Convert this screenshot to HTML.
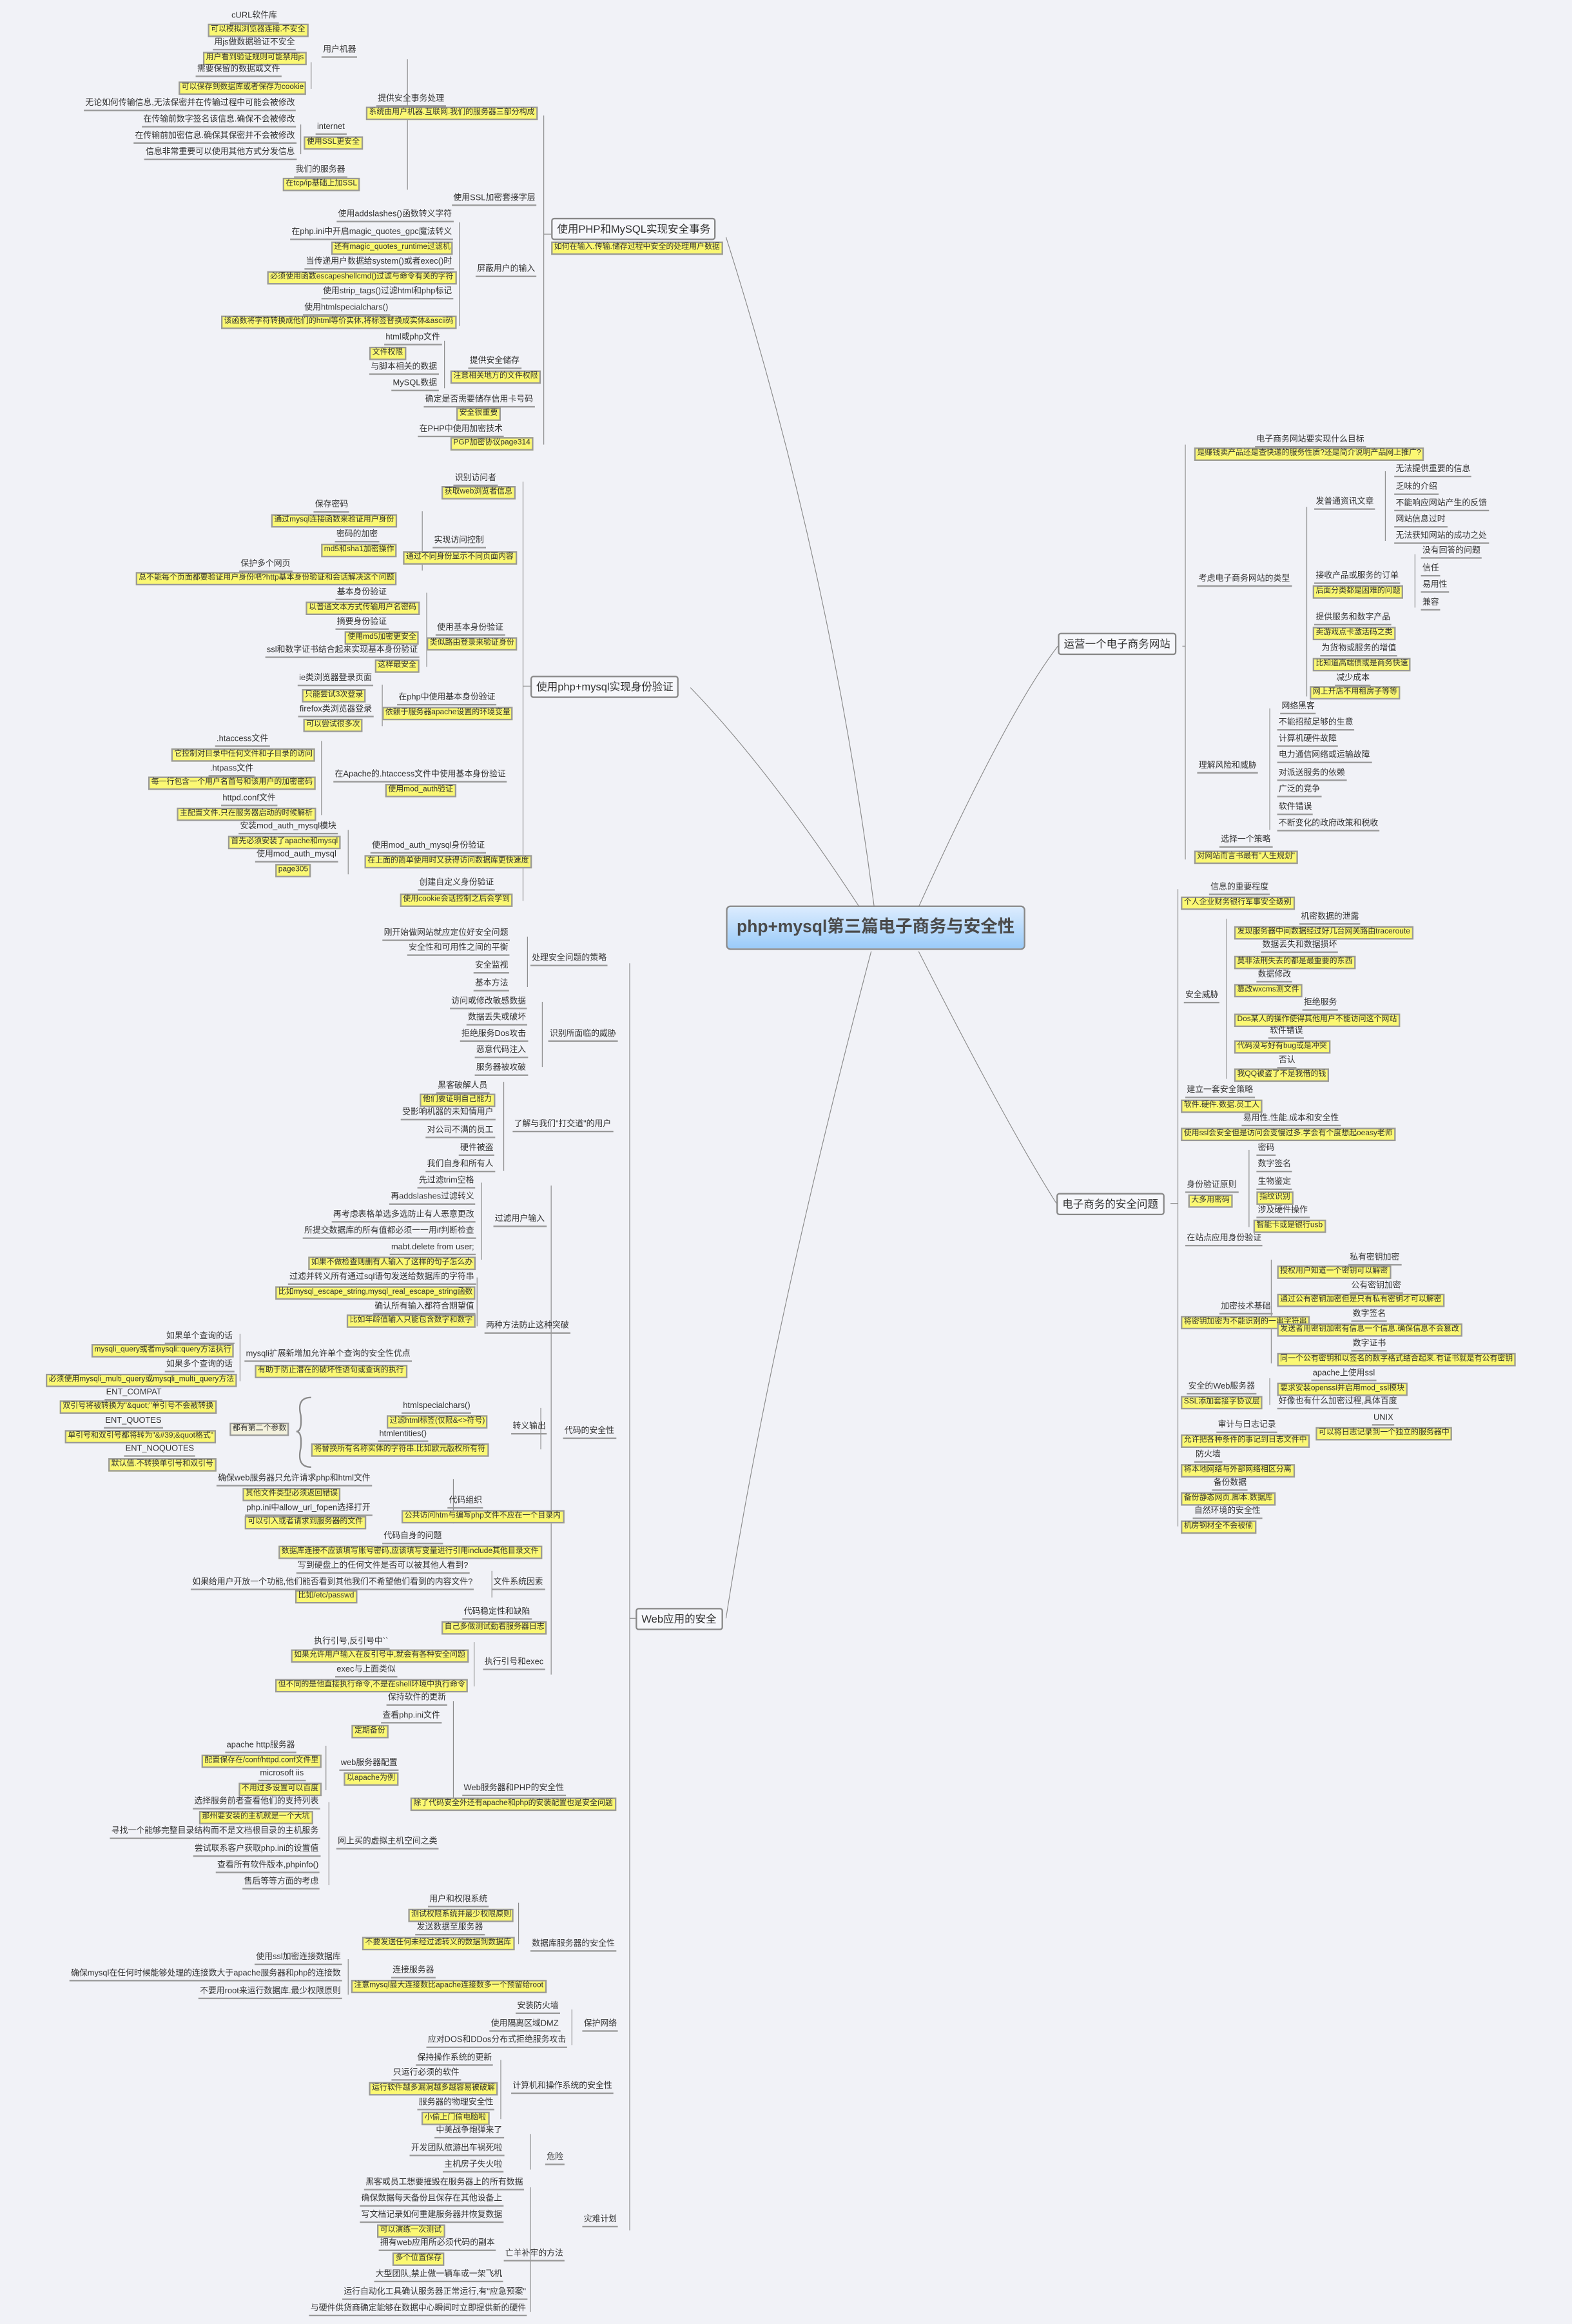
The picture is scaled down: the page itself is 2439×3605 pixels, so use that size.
<!DOCTYPE html>
<html><head><meta charset="utf-8">
<style>
html,body{margin:0;padding:0;background:#f1f2f7;}
body{width:2439px;height:3604px;overflow:hidden;position:relative;}
#c{position:absolute;left:0;top:0;width:1061px;height:1568px;transform:scale(2.2988);transform-origin:0 0;font-family:"Liberation Sans","Noto Sans CJK SC",sans-serif;color:#333;}
#c div{position:absolute;white-space:nowrap;}
.t{font-size:5.6px;line-height:7px;border-bottom:0.45px solid #999;padding:0 1px;}
.n{font-size:5.2px;line-height:6.2px;background:#fbf873;border:0.45px solid #999;padding:0.3px 1px;}
.r{transform:translateX(-100%);}
.b{font-size:7.2px;line-height:9px;border:0.5px solid #888;border-radius:2px;background:#f6f7fb;padding:2px 3px;}
.m{font-size:11.5px;font-weight:bold;color:#4a4a4a;background:linear-gradient(#dcecfe,#9acbf9);border:0.5px solid #888;border-radius:3px;padding:6px 0;width:200px;text-align:center;line-height:16px;}
svg{position:absolute;left:0;top:0;}
</style></head><body><div id="c">
<svg width="1061" height="1568" viewBox="0 0 1061 1568" fill="none" stroke="#8a8a8a" stroke-width="0.5">
<path d="M590 612 Q560 380 490 160"/><path d="M580 612 Q520 520 466 464"/><path d="M588 642 Q520 900 490 1092"/>
<path d="M620 612 Q680 480 714 436"/><path d="M620 642 Q680 760 713 812"/>
<path d="M367 78 V300 M367 158 H372 M275 40 V128 M210 42 V60 M203 84 V104 M310 150 V220 M300 230 V262"/>
<path d="M353 325 V608 M353 463 H358 M285 345 V385 M288 400 V450 M258 462 V490 M217 500 V550 M235 560 V590"/>
<path d="M425 650 V1505 M425 1092 H429 M356 632 V666 M366 676 V720 M340 730 V790 M372 800 V1130 M325 798 V850 M322 862 V895 M162 900 V932 M365 950 V978 M306 998 V1028 M332 1060 V1078 M320 1108 V1138"/>
<path d="M306 1148 V1218 M220 1178 V1208 M222 1216 V1272 M350 1284 V1312 M235 1322 V1346 M386 1356 V1380 M338 1390 V1430 M358 1440 V1464 M358 1476 V1560"/>
<path d="M800 300 V580 M800 436 H798 M935 318 V365 M955 374 V410 M882 342 V470 M857 478 V560"/>
<path d="M795 600 V1030 M795 812 H790 M828 620 V728 M843 776 V828 M858 850 V920 M857 930 V948"/>
<path d="M210 943 Q200 943 203 955 Q204 966 200 966 Q204 966 203 977 Q200 990 210 990" stroke-width="1"/>
</svg>
<div class="m" style="left:490px;top:611px;">php+mysql第三篇电子商务与安全性</div>

<div class="b" style="left:372px;top:147px;">使用PHP和MySQL实现安全事务</div>
<div class="n" style="left:372px;top:163px;">如何在输入.传输.储存过程中安全的处理用户数据</div>
<div class="t r" style="left:188px;top:8px;">cURL软件库</div>
<div class="n r" style="left:208px;top:16px;">可以模拟浏览器连接.不安全</div>
<div class="t r" style="left:200px;top:26px;">用js做数据验证不安全</div>
<div class="n r" style="left:207px;top:35px;">用户看到验证规则可能禁用js</div>
<div class="t r" style="left:190px;top:44px;">需要保留的数据或文件</div>
<div class="n r" style="left:207px;top:55px;">可以保存到数据库或者保存为cookie</div>
<div class="t" style="left:217px;top:31px;">用户机器</div>
<div class="t" style="left:254px;top:64px;">提供安全事务处理</div>
<div class="n" style="left:247px;top:72px;">系统由用户机器.互联网.我们的服务器三部分构成</div>
<div class="t r" style="left:200px;top:67px;">无论如何传输信息,无法保密并在传输过程中可能会被修改</div>
<div class="t r" style="left:200px;top:78px;">在传输前数字签名该信息.确保不会被修改</div>
<div class="t r" style="left:200px;top:89px;">在传输前加密信息.确保其保密并不会被修改</div>
<div class="t r" style="left:200px;top:100px;">信息非常重要可以使用其他方式分发信息</div>
<div class="t" style="left:213px;top:83px;">internet</div>
<div class="n" style="left:205px;top:92px;">使用SSL更安全</div>
<div class="t r" style="left:234px;top:112px;">我们的服务器</div>
<div class="n r" style="left:243px;top:120px;">在tcp/ip基础上加SSL</div>
<div class="t" style="left:305px;top:131px;">使用SSL加密套接字层</div>
<div class="t r" style="left:306px;top:142px;">使用addslashes()函数转义字符</div>
<div class="t r" style="left:306px;top:154px;">在php.ini中开启magic_quotes_gpc魔法转义</div>
<div class="n r" style="left:306px;top:163px;">还有magic_quotes_runtime过滤机</div>
<div class="t r" style="left:306px;top:174px;">当传递用户数据给system()或者exec()时</div>
<div class="n r" style="left:308px;top:183px;">必须使用函数escapeshellcmd()过滤与命令有关的字符</div>
<div class="t" style="left:321px;top:179px;">屏蔽用户的输入</div>
<div class="t r" style="left:306px;top:194px;">使用strip_tags()过滤html和php标记</div>
<div class="t r" style="left:263px;top:205px;">使用htmlspecialchars()</div>
<div class="n r" style="left:308px;top:213px;">该函数将字符转换成他们的html等价实体,将标签替换成实体&amp;ascii码</div>
<div class="t r" style="left:298px;top:225px;">html或php文件</div>
<div class="n r" style="left:274px;top:234px;">文件权限</div>
<div class="t r" style="left:296px;top:245px;">与脚本相关的数据</div>
<div class="t" style="left:316px;top:241px;">提供安全储存</div>
<div class="n" style="left:304px;top:250px;">注意相关地方的文件权限</div>
<div class="t r" style="left:296px;top:256px;">MySQL数据</div>
<div class="t" style="left:286px;top:267px;">确定是否需要储存信用卡号码</div>
<div class="n" style="left:308px;top:275px;">安全很重要</div>
<div class="t" style="left:282px;top:287px;">在PHP中使用加密技术</div>
<div class="n" style="left:304px;top:295px;">PGP加密协议page314</div>

<div class="b" style="left:358px;top:456px;">使用php+mysql实现身份验证</div>
<div class="t" style="left:306px;top:320px;">识别访问者</div>
<div class="n" style="left:298px;top:328px;">获取web浏览者信息</div>
<div class="t r" style="left:236px;top:338px;">保存密码</div>
<div class="n r" style="left:268px;top:347px;">通过mysql连接函数来验证用户身份</div>
<div class="t r" style="left:256px;top:358px;">密码的加密</div>
<div class="n r" style="left:268px;top:367px;">md5和sha1加密操作</div>
<div class="t" style="left:292px;top:362px;">实现访问控制</div>
<div class="n" style="left:272px;top:372px;">通过不同身份显示不同页面内容</div>
<div class="t r" style="left:197px;top:378px;">保护多个网页</div>
<div class="n r" style="left:268px;top:386px;">总不能每个页面都要验证用户身份吧?http基本身份验证和会话解决这个问题</div>
<div class="t r" style="left:262px;top:397px;">基本身份验证</div>
<div class="n r" style="left:283px;top:406px;">以普通文本方式传输用户名密码</div>
<div class="t r" style="left:262px;top:417px;">摘要身份验证</div>
<div class="n r" style="left:283px;top:426px;">使用md5加密更安全</div>
<div class="t" style="left:294px;top:421px;">使用基本身份验证</div>
<div class="n" style="left:288px;top:430px;">类似路由登录来验证身份</div>
<div class="t r" style="left:283px;top:436px;">ssl和数字证书结合起来实现基本身份验证</div>
<div class="n r" style="left:283px;top:445px;">这样最安全</div>
<div class="t r" style="left:252px;top:455px;">ie类浏览器登录页面</div>
<div class="n r" style="left:247px;top:465px;">只能尝试3次登录</div>
<div class="t r" style="left:252px;top:476px;">firefox类浏览器登录</div>
<div class="n r" style="left:245px;top:485px;">可以尝试很多次</div>
<div class="t" style="left:268px;top:468px;">在php中使用基本身份验证</div>
<div class="n" style="left:258px;top:477px;">依赖于服务器apache设置的环境变量</div>
<div class="t r" style="left:182px;top:496px;">.htaccess文件</div>
<div class="n r" style="left:213px;top:505px;">它控制对目录中任何文件和子目录的访问</div>
<div class="t r" style="left:172px;top:516px;">.htpass文件</div>
<div class="n r" style="left:213px;top:524px;">每一行包含一个用户名首号和该用户的加密密码</div>
<div class="t r" style="left:187px;top:536px;">httpd.conf文件</div>
<div class="n r" style="left:213px;top:545px;">主配置文件.只在服务器启动的时候解析</div>
<div class="t" style="left:225px;top:520px;">在Apache的.htaccess文件中使用基本身份验证</div>
<div class="n" style="left:260px;top:529px;">使用mod_auth验证</div>
<div class="t r" style="left:228px;top:555px;">安装mod_auth_mysql模块</div>
<div class="n r" style="left:230px;top:564px;">首先必须安装了apache和mysql</div>
<div class="t r" style="left:228px;top:574px;">使用mod_auth_mysql</div>
<div class="n r" style="left:210px;top:583px;">page305</div>
<div class="t" style="left:250px;top:568px;">使用mod_auth_mysql身份验证</div>
<div class="n" style="left:246px;top:577px;">在上面的简单使用时又获得访问数据库更快速度</div>
<div class="t" style="left:282px;top:593px;">创建自定义身份验证</div>
<div class="n" style="left:270px;top:603px;">使用cookie会话控制之后会学到</div>

<div class="b" style="left:429px;top:1085px;">Web应用的安全</div>
<div class="t" style="left:358px;top:644px;">处理安全问题的策略</div>
<div class="t r" style="left:344px;top:627px;">刚开始做网站就应定位好安全问题</div>
<div class="t r" style="left:344px;top:637px;">安全性和可用性之间的平衡</div>
<div class="t r" style="left:344px;top:649px;">安全监视</div>
<div class="t r" style="left:344px;top:661px;">基本方法</div>
<div class="t r" style="left:356px;top:673px;">访问或修改敏感数据</div>
<div class="t r" style="left:356px;top:684px;">数据丢失或破坏</div>
<div class="t r" style="left:356px;top:695px;">拒绝服务Dos攻击</div>
<div class="t" style="left:370px;top:695px;">识别所面临的威胁</div>
<div class="t r" style="left:356px;top:706px;">恶意代码注入</div>
<div class="t r" style="left:356px;top:718px;">服务器被攻破</div>
<div class="t r" style="left:330px;top:730px;">黑客破解人员</div>
<div class="n r" style="left:334px;top:738px;">他们要证明自己能力</div>
<div class="t r" style="left:334px;top:748px;">受影响机器的未知情用户</div>
<div class="t r" style="left:334px;top:760px;">对公司不满的员工</div>
<div class="t r" style="left:334px;top:772px;">硬件被盗</div>
<div class="t r" style="left:334px;top:783px;">我们自身和所有人</div>
<div class="t" style="left:346px;top:756px;">了解与我们"打交道"的用户</div>
<div class="t" style="left:380px;top:963px;">代码的安全性</div>
<div class="t r" style="left:321px;top:794px;">先过滤trim空格</div>
<div class="t r" style="left:321px;top:805px;">再addslashes过滤转义</div>
<div class="t r" style="left:321px;top:817px;">再考虑表格单选多选防止有人恶意更改</div>
<div class="t" style="left:333px;top:820px;">过滤用户输入</div>
<div class="t r" style="left:321px;top:828px;">所提交数据库的所有值都必须一一用if判断检查</div>
<div class="t r" style="left:321px;top:839px;">mabt.delete from user;</div>
<div class="n r" style="left:321px;top:848px;">如果不做检查则删有人输入了这样的句子怎么办</div>
<div class="t r" style="left:321px;top:859px;">过滤并转义所有通过sql语句发送给数据库的字符串</div>
<div class="n r" style="left:321px;top:868px;">比如mysql_escape_string,mysql_real_escape_string函数</div>
<div class="t r" style="left:321px;top:879px;">确认所有输入都符合期望值</div>
<div class="n r" style="left:321px;top:887px;">比如年龄值输入只能包含数字和数字</div>
<div class="t" style="left:327px;top:892px;">两种方法防止这种突破</div>
<div class="t r" style="left:158px;top:899px;">如果单个查询的话</div>
<div class="n r" style="left:158px;top:907px;">mysqli_query或者mysqli::query方法执行</div>
<div class="t r" style="left:158px;top:918px;">如果多个查询的话</div>
<div class="n r" style="left:160px;top:927px;">必须使用mysqli_multi_query或mysqli_multi_query方法</div>
<div class="t" style="left:165px;top:911px;">mysqli扩展新增加允许单个查询的安全性优点</div>
<div class="n" style="left:172px;top:921px;">有助于防止潜在的破坏性语句或查询的执行</div>
<div class="t r" style="left:110px;top:937px;">ENT_COMPAT</div>
<div class="n r" style="left:146px;top:945px;">双引号将被转换为"&amp;quot;"单引号不会被转换</div>
<div class="t r" style="left:110px;top:956px;">ENT_QUOTES</div>
<div class="n r" style="left:146px;top:965px;">单引号和双引号都将转为"&amp;#39;&amp;quot格式"</div>
<div class="t r" style="left:132px;top:975px;">ENT_NOQUOTES</div>
<div class="n r" style="left:146px;top:984px;">默认值.不转换单引号和双引号</div>
<div class="n" style="left:155px;top:960px;background:#f3f1dc;">都有第二个参数</div>
<div class="t" style="left:271px;top:946px;">htmlspecialchars()</div>
<div class="n" style="left:261px;top:955px;">过滤html标签(仅限&amp;&lt;&gt;符号)</div>
<div class="t" style="left:255px;top:965px;">htmlentities()</div>
<div class="n" style="left:210px;top:974px;">将替换所有名称实体的字符串.比如欧元版权所有符</div>
<div class="t" style="left:345px;top:960px;">转义输出</div>
<div class="t r" style="left:251px;top:995px;">确保web服务器只允许请求php和html文件</div>
<div class="n r" style="left:230px;top:1004px;">其他文件类型必须返回错误</div>
<div class="t r" style="left:251px;top:1015px;">php.ini中allow_url_fopen选择打开</div>
<div class="n r" style="left:247px;top:1023px;">可以引入或者请求到服务器的文件</div>
<div class="t" style="left:302px;top:1010px;">代码组织</div>
<div class="n" style="left:271px;top:1019px;">公共访问htm与编写php文件不应在一个目录内</div>
<div class="t" style="left:258px;top:1034px;">代码自身的问题</div>
<div class="n" style="left:188px;top:1043px;">数据库连接不应该填写账号密码,应该填写变量进行引用include其他目录文件</div>
<div class="t" style="left:200px;top:1054px;">写到硬盘上的任何文件是否可以被其他人看到?</div>
<div class="t r" style="left:320px;top:1065px;">如果给用户开放一个功能,他们能否看到其他我们不希望他们看到的内容文件?</div>
<div class="n r" style="left:241px;top:1073px;">比如/etc/passwd</div>
<div class="t" style="left:332px;top:1065px;">文件系统因素</div>
<div class="t" style="left:312px;top:1085px;">代码稳定性和缺陷</div>
<div class="n" style="left:298px;top:1094px;">自己多做测试勤看服务器日志</div>
<div class="t r" style="left:263px;top:1105px;">执行引号,反引号中``</div>
<div class="n r" style="left:316px;top:1113px;">如果允许用户输入在反引号中,就会有各种安全问题</div>
<div class="t r" style="left:268px;top:1124px;">exec与上面类似</div>
<div class="n r" style="left:316px;top:1133px;">但不同的是他直接执行命令,不是在shell环境中执行命令</div>
<div class="t" style="left:326px;top:1119px;">执行引号和exec</div>
<div class="t" style="left:312px;top:1204px;">Web服务器和PHP的安全性</div>
<div class="n" style="left:277px;top:1213px;">除了代码安全外还有apache和php的安装配置也是安全问题</div>
<div class="t r" style="left:302px;top:1143px;">保持软件的更新</div>
<div class="t r" style="left:298px;top:1155px;">查看php.ini文件</div>
<div class="n r" style="left:262px;top:1164px;">定期备份</div>
<div class="t r" style="left:200px;top:1175px;">apache http服务器</div>
<div class="n r" style="left:217px;top:1184px;">配置保存在/conf/httpd.conf文件里</div>
<div class="t r" style="left:206px;top:1194px;">microsoft iis</div>
<div class="n r" style="left:217px;top:1203px;">不用过多设置可以百度</div>
<div class="t" style="left:229px;top:1187px;">web服务器配置</div>
<div class="n" style="left:232px;top:1196px;">以apache为例</div>
<div class="t r" style="left:216px;top:1213px;">选择服务前者查看他们的支持列表</div>
<div class="n r" style="left:211px;top:1222px;">那州要安装的主机就是一个大坑</div>
<div class="t r" style="left:216px;top:1233px;">寻找一个能够完整目录结构而不是文档根目录的主机服务</div>
<div class="t" style="left:227px;top:1240px;">网上买的虚拟主机空间之类</div>
<div class="t r" style="left:216px;top:1245px;">尝试联系客户获取php.ini的设置值</div>
<div class="t r" style="left:216px;top:1256px;">查看所有软件版本,phpinfo()</div>
<div class="t r" style="left:216px;top:1267px;">售后等等方面的考虑</div>
<div class="t" style="left:358px;top:1309px;">数据库服务器的安全性</div>
<div class="t r" style="left:330px;top:1279px;">用户和权限系统</div>
<div class="n r" style="left:347px;top:1288px;">测试权限系统并最少权限原则</div>
<div class="t r" style="left:327px;top:1298px;">发送数据至服务器</div>
<div class="n r" style="left:347px;top:1307px;">不要发送任何未经过滤转义的数据到数据库</div>
<div class="t r" style="left:231px;top:1318px;">使用ssl加密连接数据库</div>
<div class="t r" style="left:231px;top:1329px;">确保mysql在任何时候能够处理的连接数大于apache服务器和php的连接数</div>
<div class="t r" style="left:231px;top:1341px;">不要用root来运行数据库.最少权限原则</div>
<div class="t" style="left:264px;top:1327px;">连接服务器</div>
<div class="n" style="left:237px;top:1336px;">注意mysql最大连接数比apache连接数多一个预留给root</div>
<div class="t" style="left:393px;top:1363px;">保护网络</div>
<div class="t r" style="left:378px;top:1351px;">安装防火墙</div>
<div class="t r" style="left:378px;top:1363px;">使用隔离区域DMZ</div>
<div class="t r" style="left:383px;top:1374px;">应对DOS和DDos分布式拒绝服务攻击</div>
<div class="t" style="left:345px;top:1405px;">计算机和操作系统的安全性</div>
<div class="t r" style="left:333px;top:1386px;">保持操作系统的更新</div>
<div class="t r" style="left:311px;top:1396px;">只运行必须的软件</div>
<div class="n r" style="left:336px;top:1405px;">运行软件越多漏洞越多越容易被破解</div>
<div class="t r" style="left:334px;top:1416px;">服务器的物理安全性</div>
<div class="n r" style="left:330px;top:1425px;">小偷上门偷电脑啦</div>
<div class="t" style="left:393px;top:1495px;">灾难计划</div>
<div class="t r" style="left:340px;top:1435px;">中美战争炮弹来了</div>
<div class="t r" style="left:340px;top:1447px;">开发团队旅游出车祸死啦</div>
<div class="t r" style="left:340px;top:1458px;">主机房子失火啦</div>
<div class="t" style="left:368px;top:1453px;">危险</div>
<div class="t r" style="left:354px;top:1470px;">黑客或员工想要摧毁在服务器上的所有数据</div>
<div class="t r" style="left:340px;top:1481px;">确保数据每天备份且保存在其他设备上</div>
<div class="t r" style="left:340px;top:1492px;">写文档记录如何重建服务器并恢复数据</div>
<div class="n r" style="left:300px;top:1501px;">可以演练一次测试</div>
<div class="t r" style="left:335px;top:1511px;">拥有web应用所必须代码的副本</div>
<div class="n r" style="left:300px;top:1520px;">多个位置保存</div>
<div class="t" style="left:340px;top:1518px;">亡羊补牢的方法</div>
<div class="t r" style="left:340px;top:1532px;">大型团队,禁止做一辆车或一架飞机</div>
<div class="t r" style="left:356px;top:1544px;">运行自动化工具确认服务器正常运行,有"应急预案"</div>
<div class="t r" style="left:356px;top:1555px;">与硬件供货商确定能够在数据中心瞬间时立即提供新的硬件</div>

<div class="b" style="left:714px;top:427px;">运营一个电子商务网站</div>
<div class="t" style="left:847px;top:294px;">电子商务网站要实现什么目标</div>
<div class="n" style="left:806px;top:302px;">是赚钱卖产品还是查快递的服务性质?还是简介说明产品网上推广?</div>
<div class="t" style="left:887px;top:336px;">发普通资讯文章</div>
<div class="t" style="left:941px;top:314px;">无法提供重要的信息</div>
<div class="t" style="left:941px;top:326px;">乏味的介绍</div>
<div class="t" style="left:941px;top:337px;">不能响应网站产生的反馈</div>
<div class="t" style="left:941px;top:348px;">网站信息过时</div>
<div class="t" style="left:941px;top:359px;">无法获知网站的成功之处</div>
<div class="t" style="left:959px;top:369px;">没有回答的问题</div>
<div class="t" style="left:959px;top:381px;">信任</div>
<div class="t" style="left:959px;top:392px;">易用性</div>
<div class="t" style="left:959px;top:404px;">兼容</div>
<div class="t" style="left:887px;top:386px;">接收产品或服务的订单</div>
<div class="n" style="left:886px;top:395px;">后面分类都是困难的问题</div>
<div class="t" style="left:808px;top:388px;">考虑电子商务网站的类型</div>
<div class="t" style="left:887px;top:414px;">提供服务和数字产品</div>
<div class="n" style="left:886px;top:423px;">卖游戏点卡激活码之类</div>
<div class="t" style="left:891px;top:435px;">为货物或服务的增值</div>
<div class="n" style="left:886px;top:444px;">比知道高端债或是商务快速</div>
<div class="t" style="left:901px;top:455px;">减少成本</div>
<div class="n" style="left:884px;top:463px;">网上开店不用租房子等等</div>
<div class="t" style="left:864px;top:474px;">网络黑客</div>
<div class="t" style="left:862px;top:485px;">不能招揽足够的生意</div>
<div class="t" style="left:862px;top:496px;">计算机硬件故障</div>
<div class="t" style="left:862px;top:507px;">电力通信网络或运输故障</div>
<div class="t" style="left:862px;top:519px;">对派送服务的依赖</div>
<div class="t" style="left:862px;top:530px;">广泛的竞争</div>
<div class="t" style="left:862px;top:542px;">软件错误</div>
<div class="t" style="left:862px;top:553px;">不断变化的政府政策和税收</div>
<div class="t" style="left:808px;top:514px;">理解风险和威胁</div>
<div class="t" style="left:823px;top:564px;">选择一个策略</div>
<div class="n" style="left:806px;top:574px;">对网站而言书最有"人生规划"</div>

<div class="b" style="left:713px;top:805px;">电子商务的安全问题</div>
<div class="t" style="left:816px;top:596px;">信息的重要程度</div>
<div class="n" style="left:797px;top:605px;">个人企业财务银行军事安全级别</div>
<div class="t" style="left:877px;top:616px;">机密数据的泄露</div>
<div class="n" style="left:833px;top:625px;">发现服务器中间数据经过好几台网关路由traceroute</div>
<div class="t" style="left:851px;top:635px;">数据丢失和数据损坏</div>
<div class="n" style="left:833px;top:645px;">莫非法刑失去的都是最重要的东西</div>
<div class="t" style="left:848px;top:655px;">数据修改</div>
<div class="n" style="left:833px;top:664px;">篡改wxcms测文件</div>
<div class="t" style="left:799px;top:669px;">安全威胁</div>
<div class="t" style="left:879px;top:674px;">拒绝服务</div>
<div class="n" style="left:833px;top:684px;">Dos某人的操作使得其他用户不能访问这个网站</div>
<div class="t" style="left:856px;top:693px;">软件错误</div>
<div class="n" style="left:833px;top:702px;">代码没写好有bug或是冲突</div>
<div class="t" style="left:862px;top:713px;">否认</div>
<div class="n" style="left:833px;top:721px;">我QQ被盗了不是我借的钱</div>
<div class="t" style="left:800px;top:733px;">建立一套安全策略</div>
<div class="n" style="left:797px;top:742px;">软件.硬件.数据.员工人</div>
<div class="t" style="left:838px;top:752px;">易用性.性能.成本和安全性</div>
<div class="n" style="left:797px;top:761px;">使用ssl会安全但是访问会变慢过多.学会有个度想起oeasy老师</div>
<div class="t" style="left:848px;top:772px;">密码</div>
<div class="t" style="left:848px;top:783px;">数字签名</div>
<div class="t" style="left:848px;top:795px;">生物鉴定</div>
<div class="n" style="left:848px;top:804px;">指纹识别</div>
<div class="t" style="left:848px;top:814px;">涉及硬件操作</div>
<div class="n" style="left:846px;top:823px;">智能卡或是银行usb</div>
<div class="t" style="left:800px;top:797px;">身份验证原则</div>
<div class="n" style="left:802px;top:806px;">大多用密码</div>
<div class="t" style="left:800px;top:833px;">在站点应用身份验证</div>
<div class="t" style="left:910px;top:846px;">私有密钥加密</div>
<div class="n" style="left:862px;top:854px;">授权用户知道一个密钥可以解密</div>
<div class="t" style="left:911px;top:865px;">公有密钥加密</div>
<div class="n" style="left:862px;top:873px;">通过公有密钥加密但是只有私有密钥才可以解密</div>
<div class="t" style="left:823px;top:879px;">加密技术基础</div>
<div class="n" style="left:797px;top:888px;">将密钥加密为不能识别的一串字符串</div>
<div class="t" style="left:912px;top:884px;">数字签名</div>
<div class="n" style="left:862px;top:893px;">发送者用密钥加密有信息一个信息.确保信息不会篡改</div>
<div class="t" style="left:912px;top:904px;">数字证书</div>
<div class="n" style="left:862px;top:913px;">同一个公有密钥和以签名的数字格式结合起来.有证书就是有公有密钥</div>
<div class="t" style="left:885px;top:924px;">apache上使用ssl</div>
<div class="n" style="left:862px;top:933px;">要求安装openssl并启用mod_ssl模块</div>
<div class="t" style="left:801px;top:933px;">安全的Web服务器</div>
<div class="n" style="left:797px;top:942px;">SSL添加套接字协议层</div>
<div class="t" style="left:862px;top:943px;">好像也有什么加密过程,具体百度</div>
<div class="t" style="left:926px;top:954px;">UNIX</div>
<div class="n" style="left:888px;top:963px;">可以将日志记录到一个独立的服务器中</div>
<div class="t" style="left:821px;top:959px;">审计与日志记录</div>
<div class="n" style="left:797px;top:968px;">允许把各种条件的事记到日志文件中</div>
<div class="t" style="left:806px;top:979px;">防火墙</div>
<div class="n" style="left:797px;top:988px;">将本地网络与外部网络相区分离</div>
<div class="t" style="left:818px;top:998px;">备份数据</div>
<div class="n" style="left:797px;top:1007px;">备份静态网页.脚本.数据库</div>
<div class="t" style="left:805px;top:1017px;">自然环境的安全性</div>
<div class="n" style="left:797px;top:1026px;">机房钢材全不会被偷</div>
</div></body></html>
